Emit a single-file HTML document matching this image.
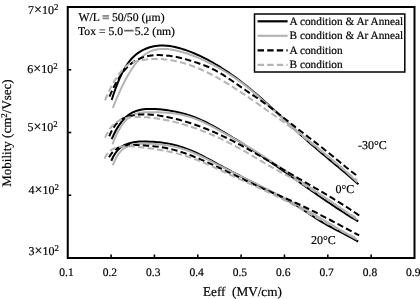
<!DOCTYPE html>
<html><head><meta charset="utf-8"><style>
html,body{margin:0;padding:0;background:#fff;}
svg{display:block;}
text{font-family:"Liberation Serif","Noto Serif CJK SC",serif;fill:#000;text-rendering:geometricPrecision;stroke:#000;stroke-width:0.18px;}
.t11{font-size:11px;}
.t12{font-size:12px;}
</style></head><body>
<svg width="420" height="299" viewBox="0 0 420 299">
<rect width="420" height="299" fill="#fff"/>
<path d="M111.70,99.94 L113.71,93.74 L115.71,88.04 L117.72,82.84 L119.72,78.10 L121.73,73.82 L123.73,69.98 L125.74,66.55 L127.75,63.51 L129.75,60.84 L131.76,58.50 L133.76,56.46 L135.77,54.69 L137.77,53.15 L139.78,51.82 L141.79,50.66 L143.79,49.65 L145.80,48.76 L147.80,47.98 L149.81,47.32 L151.81,46.77 L153.82,46.33 L155.83,45.98 L157.83,45.73 L159.84,45.58 L161.84,45.51 L163.85,45.53 L165.85,45.63 L167.86,45.81 L169.87,46.05 L171.87,46.37 L173.88,46.75 L175.88,47.20 L177.89,47.69 L179.89,48.24 L181.90,48.84 L183.90,49.49 L185.91,50.17 L187.92,50.89 L189.92,51.64 L191.93,52.43 L193.93,53.26 L195.94,54.12 L197.94,55.01 L199.95,55.94 L201.96,56.90 L203.96,57.89 L205.97,58.91 L207.97,59.97 L209.98,61.05 L211.98,62.17 L213.99,63.32 L216.00,64.50 L218.00,65.71 L220.01,66.95 L222.01,68.22 L224.02,69.52 L226.02,70.84 L228.03,72.20 L230.04,73.58 L232.04,74.99 L234.05,76.42 L236.05,77.88 L238.06,79.37 L240.06,80.88 L242.07,82.42 L244.08,83.99 L246.08,85.57 L248.09,87.19 L250.09,88.82 L252.10,90.48 L254.10,92.16 L256.11,93.87 L258.12,95.60 L260.12,97.34 L262.13,99.11 L264.13,100.90 L266.14,102.71 L268.14,104.53 L270.15,106.37 L272.16,108.22 L274.16,110.08 L276.17,111.95 L278.17,113.83 L280.18,115.71 L282.18,117.59 L284.19,119.48 L286.20,121.37 L288.20,123.25 L290.21,125.14 L292.21,127.01 L294.22,128.88 L296.22,130.74 L298.23,132.59 L300.23,134.43 L302.24,136.25 L304.25,138.06 L306.25,139.85 L308.26,141.63 L310.26,143.38 L312.27,145.12 L314.27,146.85 L316.28,148.57 L318.29,150.28 L320.29,151.97 L322.30,153.66 L324.30,155.34 L326.31,157.02 L328.31,158.69 L330.32,160.36 L332.33,162.03 L334.33,163.70 L336.34,165.37 L338.34,167.05 L340.35,168.72 L342.35,170.41 L344.36,172.10 L346.37,173.80 L348.37,175.51 L350.38,177.23 L352.38,178.96 L354.39,180.70 L356.39,182.47 L358.40,184.24" stroke="#000" stroke-width="2.0" fill="none"/><path d="M112.80,107.89 L114.80,102.93 L116.81,98.15 L118.81,93.57 L120.82,89.18 L122.82,85.01 L124.82,81.04 L126.83,77.30 L128.83,73.79 L130.84,70.52 L132.84,67.49 L134.85,64.72 L136.85,62.21 L138.85,59.94 L140.86,57.93 L142.86,56.14 L144.87,54.58 L146.87,53.24 L148.87,52.10 L150.88,51.16 L152.88,50.40 L154.89,49.82 L156.89,49.40 L158.89,49.12 L160.90,48.97 L162.90,48.93 L164.91,48.98 L166.91,49.11 L168.91,49.32 L170.92,49.59 L172.92,49.93 L174.93,50.32 L176.93,50.76 L178.94,51.24 L180.94,51.76 L182.94,52.33 L184.95,52.93 L186.95,53.57 L188.96,54.25 L190.96,54.96 L192.96,55.71 L194.97,56.49 L196.97,57.30 L198.98,58.14 L200.98,59.00 L202.98,59.90 L204.99,60.82 L206.99,61.77 L209.00,62.74 L211.00,63.74 L213.00,64.76 L215.01,65.82 L217.01,66.90 L219.02,68.00 L221.02,69.14 L223.03,70.31 L225.03,71.51 L227.03,72.74 L229.04,74.01 L231.04,75.30 L233.05,76.63 L235.05,78.00 L237.05,79.40 L239.06,80.83 L241.06,82.30 L243.07,83.81 L245.07,85.36 L247.07,86.95 L249.08,88.57 L251.08,90.22 L253.09,91.90 L255.09,93.62 L257.10,95.35 L259.10,97.11 L261.10,98.88 L263.11,100.67 L265.11,102.47 L267.12,104.28 L269.12,106.10 L271.12,107.92 L273.13,109.74 L275.13,111.57 L277.14,113.38 L279.14,115.19 L281.14,116.99 L283.15,118.77 L285.15,120.55 L287.16,122.31 L289.16,124.06 L291.16,125.80 L293.17,127.53 L295.17,129.24 L297.18,130.95 L299.18,132.64 L301.19,134.32 L303.19,135.98 L305.19,137.64 L307.20,139.29 L309.20,140.94 L311.21,142.58 L313.21,144.21 L315.21,145.84 L317.22,147.48 L319.22,149.11 L321.23,150.74 L323.23,152.38 L325.23,154.02 L327.24,155.67 L329.24,157.33 L331.25,159.00 L333.25,160.68 L335.25,162.37 L337.26,164.07 L339.26,165.79 L341.27,167.53 L343.27,169.28 L345.28,171.06 L347.28,172.85 L349.28,174.67 L351.29,176.51 L353.29,178.38 L355.30,180.27 L357.30,182.19" stroke="#b4b4b4" stroke-width="2.0" fill="none"/><path d="M109.50,96.60 L111.51,91.96 L113.51,87.71 L115.52,83.80 L117.53,80.24 L119.54,77.00 L121.54,74.07 L123.55,71.42 L125.56,69.04 L127.57,66.92 L129.57,65.04 L131.58,63.38 L133.59,61.92 L135.60,60.64 L137.60,59.54 L139.61,58.59 L141.62,57.78 L143.62,57.09 L145.63,56.52 L147.64,56.06 L149.65,55.70 L151.65,55.43 L153.66,55.24 L155.67,55.13 L157.68,55.09 L159.68,55.11 L161.69,55.18 L163.70,55.29 L165.70,55.44 L167.71,55.63 L169.72,55.86 L171.73,56.14 L173.73,56.46 L175.74,56.82 L177.75,57.23 L179.76,57.68 L181.76,58.17 L183.77,58.70 L185.78,59.25 L187.79,59.84 L189.79,60.44 L191.80,61.08 L193.81,61.73 L195.81,62.39 L197.82,63.07 L199.83,63.76 L201.84,64.47 L203.84,65.20 L205.85,65.97 L207.86,66.79 L209.87,67.67 L211.87,68.61 L213.88,69.62 L215.89,70.68 L217.90,71.80 L219.90,72.97 L221.91,74.18 L223.92,75.43 L225.92,76.72 L227.93,78.04 L229.94,79.38 L231.95,80.75 L233.95,82.13 L235.96,83.52 L237.97,84.92 L239.98,86.32 L241.98,87.72 L243.99,89.11 L246.00,90.49 L248.00,91.86 L250.01,93.22 L252.02,94.58 L254.03,95.93 L256.03,97.29 L258.04,98.65 L260.05,100.03 L262.06,101.42 L264.06,102.83 L266.07,104.26 L268.08,105.71 L270.09,107.20 L272.09,108.72 L274.10,110.27 L276.11,111.84 L278.11,113.42 L280.12,115.02 L282.13,116.62 L284.14,118.22 L286.14,119.82 L288.15,121.40 L290.16,122.98 L292.17,124.55 L294.17,126.11 L296.18,127.67 L298.19,129.22 L300.20,130.77 L302.20,132.32 L304.21,133.86 L306.22,135.41 L308.22,136.95 L310.23,138.50 L312.24,140.04 L314.25,141.59 L316.25,143.14 L318.26,144.70 L320.27,146.26 L322.28,147.83 L324.28,149.41 L326.29,151.00 L328.30,152.61 L330.30,154.23 L332.31,155.87 L334.32,157.52 L336.33,159.18 L338.33,160.85 L340.34,162.51 L342.35,164.16 L344.36,165.81 L346.36,167.44 L348.37,169.06 L350.38,170.64 L352.39,172.20 L354.39,173.73 L356.40,175.22" stroke="#000" stroke-width="2.0" fill="none" stroke-dasharray="6.4 3.2"/><path d="M105.00,100.42 L107.00,95.52 L109.00,91.10 L111.00,87.09 L113.00,83.43 L115.00,80.07 L117.00,77.00 L119.00,74.19 L121.00,71.60 L123.00,69.25 L125.00,67.17 L127.00,65.42 L129.00,64.02 L131.00,62.99 L133.00,62.25 L135.00,61.67 L137.00,61.17 L139.00,60.72 L141.00,60.32 L143.00,59.97 L145.00,59.68 L147.00,59.43 L149.00,59.24 L151.00,59.09 L153.00,58.99 L155.00,58.94 L157.00,58.94 L159.00,58.99 L161.00,59.08 L163.00,59.21 L165.00,59.39 L167.00,59.62 L169.00,59.88 L171.00,60.19 L173.00,60.54 L175.00,60.93 L177.00,61.37 L179.00,61.84 L181.00,62.35 L183.00,62.90 L185.00,63.49 L187.00,64.11 L189.00,64.78 L191.00,65.47 L193.00,66.20 L195.00,66.97 L197.00,67.77 L199.00,68.60 L201.00,69.47 L203.00,70.37 L205.00,71.30 L207.00,72.25 L209.00,73.24 L211.00,74.26 L213.00,75.30 L215.00,76.38 L217.00,77.48 L219.00,78.60 L221.00,79.75 L223.00,80.92 L225.00,82.11 L227.00,83.32 L229.00,84.55 L231.00,85.80 L233.00,87.07 L235.00,88.36 L237.00,89.66 L239.00,90.97 L241.00,92.30 L243.00,93.64 L245.00,94.99 L247.00,96.35 L249.00,97.72 L251.00,99.10 L253.00,100.49 L255.00,101.88 L257.00,103.28 L259.00,104.68 L261.00,106.08 L263.00,107.48 L265.00,108.89 L267.00,110.29 L269.00,111.70 L271.00,113.10 L273.00,114.51 L275.00,115.92 L277.00,117.33 L279.00,118.75 L281.00,120.18 L283.00,121.61 L285.00,123.05 L287.00,124.51 L289.00,125.98 L291.00,127.45 L293.00,128.95 L295.00,130.45 L297.00,131.97 L299.00,133.51 L301.00,135.05 L303.00,136.60 L305.00,138.16 L307.00,139.74 L309.00,141.32 L311.00,142.91 L313.00,144.51 L315.00,146.11 L317.00,147.73 L319.00,149.35 L321.00,150.97 L323.00,152.60 L325.00,154.23 L327.00,155.87 L329.00,157.51 L331.00,159.15 L333.00,160.80 L335.00,162.45 L337.00,164.09 L339.00,165.74 L341.00,167.39 L343.00,169.04 L345.00,170.68 L347.00,172.33 L349.00,173.97 L351.00,175.61 L353.00,177.24 L355.00,178.87 L357.00,180.49" stroke="#b4b4b4" stroke-width="2.0" fill="none" stroke-dasharray="6.4 3.2"/><path d="M111.70,139.11 L113.70,134.73 L115.71,130.83 L117.71,127.37 L119.72,124.31 L121.72,121.64 L123.72,119.31 L125.73,117.31 L127.73,115.60 L129.74,114.16 L131.74,112.95 L133.74,111.95 L135.75,111.13 L137.75,110.48 L139.76,109.96 L141.76,109.58 L143.77,109.30 L145.77,109.12 L147.77,109.00 L149.78,108.95 L151.78,108.94 L153.79,108.97 L155.79,109.06 L157.79,109.18 L159.80,109.34 L161.80,109.54 L163.81,109.77 L165.81,110.03 L167.81,110.32 L169.82,110.63 L171.82,110.98 L173.83,111.36 L175.83,111.76 L177.83,112.20 L179.84,112.67 L181.84,113.17 L183.85,113.71 L185.85,114.28 L187.85,114.90 L189.86,115.55 L191.86,116.24 L193.87,116.98 L195.87,117.75 L197.87,118.58 L199.88,119.44 L201.88,120.34 L203.89,121.28 L205.89,122.25 L207.90,123.26 L209.90,124.30 L211.90,125.36 L213.91,126.45 L215.91,127.56 L217.92,128.69 L219.92,129.84 L221.92,131.01 L223.93,132.19 L225.93,133.38 L227.94,134.58 L229.94,135.79 L231.94,137.01 L233.95,138.23 L235.95,139.46 L237.96,140.70 L239.96,141.95 L241.96,143.21 L243.97,144.47 L245.97,145.74 L247.98,147.02 L249.98,148.31 L251.98,149.60 L253.99,150.91 L255.99,152.22 L258.00,153.55 L260.00,154.88 L262.00,156.22 L264.01,157.57 L266.01,158.92 L268.02,160.29 L270.02,161.66 L272.03,163.03 L274.03,164.41 L276.03,165.80 L278.04,167.19 L280.04,168.59 L282.05,169.99 L284.05,171.39 L286.05,172.80 L288.06,174.21 L290.06,175.62 L292.07,177.03 L294.07,178.45 L296.07,179.86 L298.08,181.27 L300.08,182.69 L302.09,184.10 L304.09,185.51 L306.09,186.92 L308.10,188.33 L310.10,189.73 L312.11,191.14 L314.11,192.54 L316.11,193.93 L318.12,195.32 L320.12,196.70 L322.13,198.08 L324.13,199.46 L326.13,200.82 L328.14,202.18 L330.14,203.53 L332.15,204.88 L334.15,206.22 L336.16,207.54 L338.16,208.86 L340.16,210.17 L342.17,211.47 L344.17,212.76 L346.18,214.03 L348.18,215.30 L350.18,216.55 L352.19,217.79 L354.19,219.02 L356.20,220.23 L358.20,221.43" stroke="#000" stroke-width="2.0" fill="none"/><path d="M112.50,144.32 L114.50,139.17 L116.51,134.62 L118.51,130.65 L120.52,127.21 L122.52,124.25 L124.53,121.73 L126.53,119.62 L128.54,117.87 L130.54,116.43 L132.55,115.28 L134.55,114.36 L136.56,113.64 L138.56,113.11 L140.57,112.73 L142.57,112.47 L144.58,112.32 L146.58,112.25 L148.59,112.22 L150.59,112.22 L152.60,112.23 L154.60,112.25 L156.61,112.28 L158.61,112.32 L160.62,112.38 L162.62,112.47 L164.63,112.57 L166.63,112.70 L168.64,112.86 L170.64,113.04 L172.65,113.26 L174.65,113.52 L176.66,113.81 L178.66,114.15 L180.67,114.52 L182.67,114.95 L184.68,115.42 L186.68,115.94 L188.69,116.51 L190.69,117.14 L192.70,117.82 L194.70,118.55 L196.71,119.33 L198.71,120.16 L200.72,121.03 L202.72,121.94 L204.73,122.89 L206.73,123.86 L208.74,124.86 L210.74,125.88 L212.75,126.93 L214.75,127.99 L216.76,129.07 L218.76,130.15 L220.77,131.25 L222.77,132.36 L224.78,133.46 L226.78,134.57 L228.79,135.68 L230.79,136.78 L232.80,137.89 L234.80,139.00 L236.80,140.12 L238.81,141.25 L240.81,142.39 L242.82,143.56 L244.82,144.74 L246.83,145.93 L248.83,147.14 L250.84,148.37 L252.84,149.60 L254.85,150.85 L256.85,152.11 L258.86,153.39 L260.86,154.67 L262.87,155.96 L264.87,157.26 L266.88,158.56 L268.88,159.87 L270.89,161.19 L272.89,162.51 L274.90,163.83 L276.90,165.16 L278.91,166.49 L280.91,167.82 L282.92,169.16 L284.92,170.49 L286.93,171.83 L288.93,173.17 L290.94,174.52 L292.94,175.86 L294.95,177.21 L296.95,178.56 L298.96,179.91 L300.96,181.26 L302.97,182.62 L304.97,183.97 L306.98,185.33 L308.98,186.69 L310.99,188.05 L312.99,189.41 L315.00,190.77 L317.00,192.14 L319.01,193.50 L321.01,194.86 L323.02,196.23 L325.02,197.60 L327.03,198.96 L329.03,200.33 L331.04,201.70 L333.04,203.07 L335.05,204.43 L337.05,205.80 L339.06,207.17 L341.06,208.54 L343.07,209.91 L345.07,211.28 L347.08,212.65 L349.08,214.01 L351.09,215.38 L353.09,216.75 L355.10,218.12 L357.10,219.48" stroke="#b4b4b4" stroke-width="2.0" fill="none"/><path d="M109.20,136.23 L111.20,131.81 L113.20,128.16 L115.20,125.20 L117.20,122.82 L119.20,120.96 L121.20,119.52 L123.20,118.42 L125.20,117.56 L127.20,116.88 L129.20,116.30 L131.20,115.80 L133.20,115.38 L135.20,115.04 L137.20,114.77 L139.20,114.58 L141.20,114.45 L143.20,114.38 L145.20,114.37 L147.20,114.42 L149.20,114.51 L151.20,114.66 L153.20,114.84 L155.20,115.07 L157.20,115.33 L159.20,115.62 L161.20,115.94 L163.20,116.28 L165.20,116.65 L167.20,117.04 L169.20,117.45 L171.20,117.88 L173.20,118.34 L175.20,118.81 L177.20,119.31 L179.20,119.83 L181.20,120.38 L183.20,120.94 L185.20,121.52 L187.20,122.13 L189.20,122.75 L191.20,123.40 L193.20,124.06 L195.20,124.75 L197.20,125.45 L199.20,126.18 L201.20,126.92 L203.20,127.68 L205.20,128.46 L207.20,129.26 L209.20,130.08 L211.20,130.91 L213.20,131.77 L215.20,132.64 L217.20,133.53 L219.20,134.43 L221.20,135.36 L223.20,136.30 L225.20,137.25 L227.20,138.22 L229.20,139.21 L231.20,140.21 L233.20,141.23 L235.20,142.26 L237.20,143.31 L239.20,144.36 L241.20,145.43 L243.20,146.51 L245.20,147.60 L247.20,148.70 L249.20,149.81 L251.20,150.93 L253.20,152.06 L255.20,153.19 L257.20,154.34 L259.20,155.48 L261.20,156.64 L263.20,157.80 L265.20,158.96 L267.20,160.13 L269.20,161.30 L271.20,162.47 L273.20,163.64 L275.20,164.82 L277.20,166.00 L279.20,167.17 L281.20,168.35 L283.20,169.52 L285.20,170.70 L287.20,171.87 L289.20,173.04 L291.20,174.20 L293.20,175.36 L295.20,176.52 L297.20,177.67 L299.20,178.82 L301.20,179.97 L303.20,181.12 L305.20,182.26 L307.20,183.41 L309.20,184.56 L311.20,185.71 L313.20,186.86 L315.20,188.02 L317.20,189.17 L319.20,190.34 L321.20,191.50 L323.20,192.68 L325.20,193.86 L327.20,195.04 L329.20,196.24 L331.20,197.44 L333.20,198.65 L335.20,199.88 L337.20,201.11 L339.20,202.35 L341.20,203.61 L343.20,204.87 L345.20,206.16 L347.20,207.45 L349.20,208.76 L351.20,210.08 L353.20,211.42 L355.20,212.78 L357.20,214.16 L359.20,215.55" stroke="#000" stroke-width="2.0" fill="none" stroke-dasharray="6.4 3.2"/><path d="M105.00,137.64 L107.00,133.63 L109.00,130.25 L111.00,127.45 L113.00,125.15 L115.00,123.31 L117.00,121.84 L119.00,120.69 L121.00,119.78 L123.00,119.06 L125.00,118.46 L127.00,117.97 L129.00,117.58 L131.00,117.28 L133.00,117.07 L135.00,116.94 L137.00,116.88 L139.00,116.88 L141.00,116.93 L143.00,117.03 L145.00,117.17 L147.00,117.34 L149.00,117.53 L151.00,117.75 L153.00,117.99 L155.00,118.25 L157.00,118.54 L159.00,118.85 L161.00,119.18 L163.00,119.53 L165.00,119.91 L167.00,120.31 L169.00,120.73 L171.00,121.17 L173.00,121.64 L175.00,122.12 L177.00,122.63 L179.00,123.16 L181.00,123.71 L183.00,124.28 L185.00,124.87 L187.00,125.48 L189.00,126.11 L191.00,126.77 L193.00,127.44 L195.00,128.13 L197.00,128.85 L199.00,129.58 L201.00,130.33 L203.00,131.10 L205.00,131.89 L207.00,132.70 L209.00,133.53 L211.00,134.38 L213.00,135.24 L215.00,136.13 L217.00,137.03 L219.00,137.95 L221.00,138.89 L223.00,139.85 L225.00,140.82 L227.00,141.81 L229.00,142.82 L231.00,143.84 L233.00,144.89 L235.00,145.95 L237.00,147.02 L239.00,148.11 L241.00,149.22 L243.00,150.34 L245.00,151.48 L247.00,152.64 L249.00,153.81 L251.00,154.99 L253.00,156.17 L255.00,157.37 L257.00,158.57 L259.00,159.77 L261.00,160.96 L263.00,162.15 L265.00,163.34 L267.00,164.51 L269.00,165.67 L271.00,166.82 L273.00,167.94 L275.00,169.05 L277.00,170.14 L279.00,171.22 L281.00,172.29 L283.00,173.35 L285.00,174.41 L287.00,175.46 L289.00,176.52 L291.00,177.59 L293.00,178.66 L295.00,179.74 L297.00,180.84 L299.00,181.95 L301.00,183.09 L303.00,184.24 L305.00,185.42 L307.00,186.61 L309.00,187.82 L311.00,189.04 L313.00,190.28 L315.00,191.53 L317.00,192.80 L319.00,194.07 L321.00,195.35 L323.00,196.64 L325.00,197.94 L327.00,199.24 L329.00,200.54 L331.00,201.85 L333.00,203.16 L335.00,204.46 L337.00,205.77 L339.00,207.07 L341.00,208.37 L343.00,209.66 L345.00,210.95 L347.00,212.22 L349.00,213.49 L351.00,214.75 L353.00,215.99 L355.00,217.22 L357.00,218.44" stroke="#b4b4b4" stroke-width="2.0" fill="none" stroke-dasharray="6.4 3.2"/><path d="M111.30,160.77 L113.31,156.59 L115.31,153.23 L117.32,150.56 L119.33,148.48 L121.34,146.88 L123.34,145.65 L125.35,144.67 L127.36,143.86 L129.37,143.20 L131.37,142.68 L133.38,142.27 L135.39,141.96 L137.40,141.75 L139.40,141.62 L141.41,141.55 L143.42,141.52 L145.42,141.53 L147.43,141.57 L149.44,141.63 L151.45,141.72 L153.45,141.84 L155.46,141.99 L157.47,142.16 L159.48,142.36 L161.48,142.60 L163.49,142.87 L165.50,143.18 L167.50,143.51 L169.51,143.89 L171.52,144.30 L173.53,144.75 L175.53,145.24 L177.54,145.77 L179.55,146.34 L181.56,146.96 L183.56,147.61 L185.57,148.32 L187.58,149.07 L189.59,149.86 L191.59,150.70 L193.60,151.58 L195.61,152.50 L197.61,153.45 L199.62,154.43 L201.63,155.44 L203.64,156.47 L205.64,157.52 L207.65,158.58 L209.66,159.66 L211.67,160.74 L213.67,161.84 L215.68,162.93 L217.69,164.02 L219.70,165.11 L221.70,166.19 L223.71,167.27 L225.72,168.34 L227.72,169.41 L229.73,170.48 L231.74,171.54 L233.75,172.60 L235.75,173.65 L237.76,174.71 L239.77,175.75 L241.78,176.80 L243.78,177.84 L245.79,178.87 L247.80,179.91 L249.80,180.94 L251.81,181.97 L253.82,182.99 L255.83,184.01 L257.83,185.03 L259.84,186.05 L261.85,187.06 L263.86,188.08 L265.86,189.08 L267.87,190.09 L269.88,191.11 L271.89,192.12 L273.89,193.14 L275.90,194.17 L277.91,195.21 L279.91,196.25 L281.92,197.31 L283.93,198.39 L285.94,199.48 L287.94,200.59 L289.95,201.72 L291.96,202.87 L293.97,204.05 L295.97,205.25 L297.98,206.48 L299.99,207.73 L302.00,209.02 L304.00,210.33 L306.01,211.66 L308.02,213.00 L310.02,214.34 L312.03,215.68 L314.04,217.00 L316.05,218.31 L318.05,219.59 L320.06,220.85 L322.07,222.06 L324.08,223.24 L326.08,224.39 L328.09,225.51 L330.10,226.61 L332.10,227.69 L334.11,228.75 L336.12,229.80 L338.13,230.84 L340.13,231.88 L342.14,232.91 L344.15,233.95 L346.16,234.99 L348.16,236.05 L350.17,237.11 L352.18,238.20 L354.19,239.31 L356.19,240.44 L358.20,241.60" stroke="#000" stroke-width="2.0" fill="none"/><path d="M112.80,165.46 L114.80,160.53 L116.80,156.59 L118.81,153.49 L120.81,151.10 L122.81,149.28 L124.81,147.89 L126.82,146.79 L128.82,145.90 L130.82,145.19 L132.82,144.64 L134.83,144.24 L136.83,143.95 L138.83,143.77 L140.83,143.67 L142.84,143.63 L144.84,143.63 L146.84,143.66 L148.84,143.71 L150.85,143.77 L152.85,143.87 L154.85,143.99 L156.85,144.13 L158.86,144.30 L160.86,144.50 L162.86,144.73 L164.86,144.99 L166.87,145.29 L168.87,145.61 L170.87,145.97 L172.87,146.37 L174.88,146.81 L176.88,147.28 L178.88,147.80 L180.88,148.35 L182.89,148.95 L184.89,149.59 L186.89,150.28 L188.89,151.01 L190.90,151.79 L192.90,152.61 L194.90,153.46 L196.90,154.36 L198.91,155.28 L200.91,156.23 L202.91,157.20 L204.91,158.19 L206.92,159.20 L208.92,160.21 L210.92,161.24 L212.92,162.27 L214.93,163.30 L216.93,164.33 L218.93,165.36 L220.93,166.38 L222.94,167.39 L224.94,168.39 L226.94,169.39 L228.94,170.39 L230.95,171.39 L232.95,172.38 L234.95,173.36 L236.95,174.35 L238.95,175.33 L240.96,176.31 L242.96,177.29 L244.96,178.27 L246.96,179.25 L248.97,180.23 L250.97,181.22 L252.97,182.20 L254.97,183.18 L256.98,184.17 L258.98,185.16 L260.98,186.15 L262.98,187.15 L264.99,188.15 L266.99,189.16 L268.99,190.17 L270.99,191.19 L273.00,192.21 L275.00,193.23 L277.00,194.26 L279.00,195.30 L281.01,196.34 L283.01,197.39 L285.01,198.44 L287.01,199.50 L289.02,200.56 L291.02,201.63 L293.02,202.71 L295.02,203.79 L297.03,204.88 L299.03,205.97 L301.03,207.08 L303.03,208.19 L305.04,209.30 L307.04,210.43 L309.04,211.56 L311.04,212.69 L313.05,213.84 L315.05,214.99 L317.05,216.15 L319.05,217.32 L321.06,218.50 L323.06,219.68 L325.06,220.87 L327.06,222.07 L329.07,223.27 L331.07,224.47 L333.07,225.67 L335.07,226.87 L337.08,228.06 L339.08,229.25 L341.08,230.44 L343.08,231.62 L345.09,232.79 L347.09,233.95 L349.09,235.11 L351.09,236.24 L353.10,237.37 L355.10,238.48 L357.10,239.57" stroke="#b4b4b4" stroke-width="2.0" fill="none"/><path d="M109.00,157.19 L111.00,154.11 L113.00,151.68 L115.00,149.80 L117.01,148.37 L119.01,147.32 L121.01,146.54 L123.01,145.95 L125.01,145.52 L127.01,145.23 L129.02,145.05 L131.02,144.98 L133.02,144.98 L135.02,145.03 L137.02,145.11 L139.02,145.21 L141.03,145.31 L143.03,145.43 L145.03,145.55 L147.03,145.68 L149.03,145.84 L151.03,146.00 L153.04,146.19 L155.04,146.40 L157.04,146.63 L159.04,146.89 L161.04,147.18 L163.04,147.49 L165.04,147.84 L167.05,148.23 L169.05,148.65 L171.05,149.11 L173.05,149.60 L175.05,150.13 L177.05,150.70 L179.06,151.30 L181.06,151.93 L183.06,152.58 L185.06,153.27 L187.06,153.98 L189.06,154.72 L191.07,155.48 L193.07,156.27 L195.07,157.07 L197.07,157.89 L199.07,158.73 L201.07,159.59 L203.08,160.45 L205.08,161.34 L207.08,162.23 L209.08,163.13 L211.08,164.04 L213.08,164.96 L215.08,165.89 L217.09,166.82 L219.09,167.76 L221.09,168.71 L223.09,169.66 L225.09,170.62 L227.09,171.57 L229.10,172.53 L231.10,173.50 L233.10,174.46 L235.10,175.42 L237.10,176.39 L239.10,177.35 L241.11,178.31 L243.11,179.27 L245.11,180.23 L247.11,181.18 L249.11,182.13 L251.11,183.07 L253.12,184.01 L255.12,184.94 L257.12,185.86 L259.12,186.78 L261.12,187.68 L263.12,188.58 L265.12,189.47 L267.13,190.35 L269.13,191.22 L271.13,192.09 L273.13,192.96 L275.13,193.82 L277.13,194.67 L279.14,195.53 L281.14,196.39 L283.14,197.25 L285.14,198.12 L287.14,198.99 L289.14,199.87 L291.15,200.76 L293.15,201.65 L295.15,202.56 L297.15,203.48 L299.15,204.41 L301.15,205.35 L303.16,206.30 L305.16,207.26 L307.16,208.23 L309.16,209.22 L311.16,210.21 L313.16,211.20 L315.16,212.21 L317.17,213.22 L319.17,214.24 L321.17,215.27 L323.17,216.30 L325.17,217.34 L327.17,218.39 L329.18,219.44 L331.18,220.49 L333.18,221.54 L335.18,222.60 L337.18,223.67 L339.18,224.73 L341.19,225.80 L343.19,226.87 L345.19,227.94 L347.19,229.00 L349.19,230.07 L351.19,231.14 L353.20,232.21 L355.20,233.28 L357.20,234.34 L359.20,235.41" stroke="#000" stroke-width="2.0" fill="none" stroke-dasharray="6.4 3.2"/><path d="M104.50,158.49 L106.50,154.95 L108.51,152.34 L110.51,150.49 L112.52,149.20 L114.52,148.30 L116.52,147.61 L118.53,147.08 L120.53,146.69 L122.54,146.42 L124.54,146.26 L126.54,146.19 L128.55,146.21 L130.55,146.30 L132.56,146.44 L134.56,146.62 L136.56,146.84 L138.57,147.06 L140.57,147.29 L142.58,147.52 L144.58,147.76 L146.58,148.01 L148.59,148.27 L150.59,148.54 L152.60,148.81 L154.60,149.10 L156.60,149.40 L158.61,149.72 L160.61,150.05 L162.62,150.39 L164.62,150.76 L166.62,151.14 L168.63,151.54 L170.63,151.96 L172.63,152.41 L174.64,152.87 L176.64,153.36 L178.65,153.88 L180.65,154.42 L182.65,154.99 L184.66,155.59 L186.66,156.21 L188.67,156.87 L190.67,157.56 L192.67,158.27 L194.68,159.01 L196.68,159.78 L198.69,160.58 L200.69,161.39 L202.69,162.22 L204.70,163.08 L206.70,163.94 L208.71,164.83 L210.71,165.72 L212.71,166.63 L214.72,167.55 L216.72,168.48 L218.73,169.41 L220.73,170.34 L222.73,171.28 L224.74,172.22 L226.74,173.16 L228.75,174.09 L230.75,175.03 L232.75,175.96 L234.76,176.89 L236.76,177.81 L238.77,178.74 L240.77,179.66 L242.77,180.57 L244.78,181.48 L246.78,182.39 L248.79,183.30 L250.79,184.21 L252.79,185.11 L254.80,186.02 L256.80,186.93 L258.81,187.84 L260.81,188.75 L262.81,189.67 L264.82,190.60 L266.82,191.53 L268.83,192.47 L270.83,193.42 L272.83,194.38 L274.84,195.35 L276.84,196.34 L278.85,197.33 L280.85,198.34 L282.85,199.36 L284.86,200.39 L286.86,201.43 L288.87,202.48 L290.87,203.54 L292.87,204.61 L294.88,205.68 L296.88,206.76 L298.88,207.85 L300.89,208.94 L302.89,210.03 L304.90,211.13 L306.90,212.23 L308.90,213.34 L310.91,214.44 L312.91,215.55 L314.92,216.65 L316.92,217.76 L318.92,218.86 L320.93,219.96 L322.93,221.06 L324.94,222.16 L326.94,223.25 L328.94,224.34 L330.95,225.42 L332.95,226.49 L334.96,227.56 L336.96,228.62 L338.96,229.67 L340.97,230.71 L342.97,231.74 L344.98,232.76 L346.98,233.77 L348.98,234.77 L350.99,235.75 L352.99,236.72 L355.00,237.68 L357.00,238.62" stroke="#b4b4b4" stroke-width="2.0" fill="none" stroke-dasharray="6.4 3.2"/>
<g stroke="#000" stroke-width="1.6"><line x1="111.09" y1="258.0" x2="111.09" y2="254.5" /><line x1="154.44" y1="258.0" x2="154.44" y2="254.5" /><line x1="197.78" y1="258.0" x2="197.78" y2="254.5" /><line x1="241.12" y1="258.0" x2="241.12" y2="254.5" /><line x1="284.47" y1="258.0" x2="284.47" y2="254.5" /><line x1="327.81" y1="258.0" x2="327.81" y2="254.5" /><line x1="371.16" y1="258.0" x2="371.16" y2="254.5" /><line x1="67.75" y1="69.75" x2="71.25" y2="69.75" /><line x1="67.75" y1="132.50" x2="71.25" y2="132.50" /><line x1="67.75" y1="195.25" x2="71.25" y2="195.25" /></g>
<rect x="67.75" y="7.0" width="346.75" height="251.0" fill="none" stroke="#000" stroke-width="2"/>
<rect x="254.5" y="14" width="150.3" height="58" fill="#fff" stroke="#000" stroke-width="1.5"/>
<g stroke-width="2.2" fill="none" stroke-linecap="butt">
<line x1="257.6" y1="21.3" x2="287.6" y2="21.3" stroke="#000"/>
<line x1="257.6" y1="35.8" x2="287.6" y2="35.8" stroke="#b4b4b4"/>
<line x1="257.6" y1="50.3" x2="287.6" y2="50.3" stroke="#000" stroke-dasharray="6.4 3.2"/>
<line x1="257.6" y1="64.8" x2="287.6" y2="64.8" stroke="#b4b4b4" stroke-dasharray="6.4 3.2"/>
</g>
<text x="289.6" y="24.8" style="font-size:11.3px">A condition &amp; Ar Anneal</text>
<text x="289.6" y="39.3" style="font-size:11.3px">B condition &amp; Ar Anneal</text>
<text x="289.6" y="53.9" style="font-size:11.3px">A condition</text>
<text x="289.6" y="68.4" style="font-size:11.3px">B condition</text>
<text x="78.5" y="20.7" style="font-size:11.7px">W/L <tspan style="fill:#8a8a8a;stroke:#8a8a8a;stroke-width:1.1px">=</tspan> 50/50 (μm)</text>
<text x="78.0" y="34.5" style="font-size:11.7px">Tox = 5.0<tspan dy="0.6" style="font-family:'Noto Sans CJK JP',sans-serif;fill:#666;stroke:#666;stroke-width:0.8px">－</tspan><tspan dy="-0.6">5.2 (nm)</tspan></text>
<text x="358" y="149.2" class="t12">-30°C</text>
<text x="335.5" y="192.6" class="t12">0°C</text>
<text x="311" y="243.6" class="t12">20°C</text>
<text x="58.4" y="13.7" text-anchor="end" class="t12">7<tspan font-size="14">×</tspan>10<tspan dy="-3.7" font-size="8.8">2</tspan></text><text x="57.6" y="72.6" text-anchor="end" class="t12">6<tspan font-size="14">×</tspan>10<tspan dy="-3.7" font-size="8.8">2</tspan></text><text x="57.7" y="130.7" text-anchor="end" class="t12">5<tspan font-size="14">×</tspan>10<tspan dy="-3.7" font-size="8.8">2</tspan></text><text x="58.9" y="193.6" text-anchor="end" class="t12">4<tspan font-size="14">×</tspan>10<tspan dy="-3.7" font-size="8.8">2</tspan></text><text x="58.9" y="255.0" text-anchor="end" class="t12">3<tspan font-size="14">×</tspan>10<tspan dy="-3.7" font-size="8.8">2</tspan></text>
<text x="66.55" y="275.7" text-anchor="middle" style="font-size:11.5px">0.1</text><text x="109.89" y="275.7" text-anchor="middle" style="font-size:11.5px">0.2</text><text x="153.24" y="275.7" text-anchor="middle" style="font-size:11.5px">0.3</text><text x="196.58" y="275.7" text-anchor="middle" style="font-size:11.5px">0.4</text><text x="239.93" y="275.7" text-anchor="middle" style="font-size:11.5px">0.5</text><text x="283.27" y="275.7" text-anchor="middle" style="font-size:11.5px">0.6</text><text x="326.61" y="275.7" text-anchor="middle" style="font-size:11.5px">0.7</text><text x="369.96" y="275.7" text-anchor="middle" style="font-size:11.5px">0.8</text><text x="413.30" y="275.7" text-anchor="middle" style="font-size:11.5px">0.9</text>
<text x="203" y="295.8" style="font-size:13.2px;white-space:pre" xml:space="preserve">Eeff  (MV/cm)</text>
<text transform="translate(11.0,133) rotate(-90)" text-anchor="middle" style="font-size:13px">Mobility (cm<tspan dy="-4.3" font-size="9">2</tspan><tspan dy="4.3">/Vsec)</tspan></text>
</svg>
</body></html>
